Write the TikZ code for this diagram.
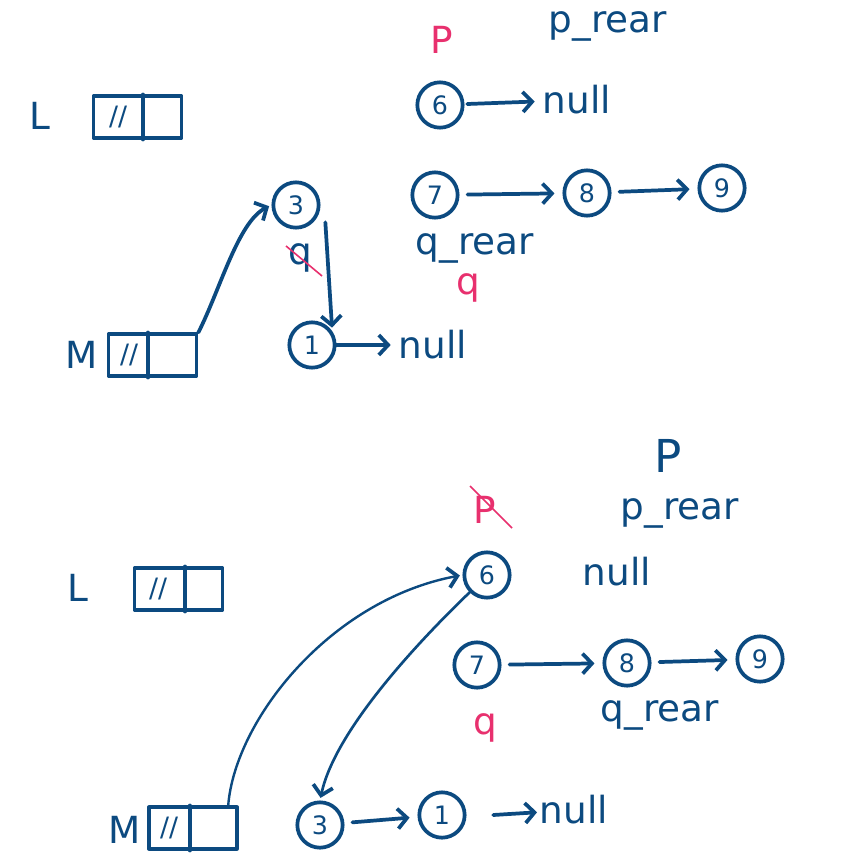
\documentclass[tikz,border=0pt]{standalone}
\usepackage{fontspec}
\setmainfont{DejaVu Sans}
\usetikzlibrary{arrows.meta}
\definecolor{inkblue}{RGB}{12,74,128}
\definecolor{inkpink}{RGB}{232,48,110}
\tikzset{
  ink/.style={draw=inkblue, line width=2.8pt, line cap=round, line join=round},
  elem/.style={circle, ink, minimum size=34pt, inner sep=0pt, text=inkblue, font=\fontsize{19}{21}\selectfont},
  headbox/.style={rectangle, ink, minimum width=66pt, minimum height=31pt, inner sep=0pt},
  lbl/.style={text=inkblue, font=\fontsize{28}{32}\selectfont, inner sep=0pt},
  pinklbl/.style={text=inkpink, font=\fontsize{28}{32}\selectfont, inner sep=0pt},
  nil/.style={text=inkblue, font=\fontsize{20}{22}\selectfont, inner sep=0pt},
  ptr/.style={ink, -{Straight Barb[length=7pt, width=15pt, line width=2.8pt]}, shorten <=6pt, shorten >=6pt},
  strike/.style={draw=inkpink, line width=1.2pt}
}
\begin{document}
\begin{tikzpicture}[x=0.75pt, y=-0.75pt]
    \useasboundingbox[fill=white] (0,0) rectangle (856,863);
    % upper half
    \node[lbl] (L1) at (40,116) {L};
    \node[headbox] (Lbox1) at (137.5,117) {};
    \draw[ink] ([xshift=4pt]Lbox1.north) -- ([xshift=4pt]Lbox1.south);
    \node[nil] (Lnil1) at (118,117) {//};
    \node[lbl] (M1) at (82,355) {M};
    \node[headbox] (Mbox1) at (152.5,355) {};
    \draw[ink] ([xshift=-3.5pt]Mbox1.north) -- ([xshift=-3.5pt]Mbox1.south);
    \node[nil] (Mnil1) at (129,355) {//};
    \node[elem] (a6) at (440,105) {6};
    \node[pinklbl] (pA) at (442,40) {P};
    \node[lbl] (prA) at (608,26) {p\_rear};
    \node[lbl] (nullA) at (577,100) {null};
    \node[elem] (a7) at (435,195) {7};
    \node[elem] (a8) at (587,193) {8};
    \node[elem] (a9) at (722,188) {9};
    \node[lbl] (qrA) at (475,248) {q\_rear};
    \node[pinklbl] (qA) at (468,288) {q};
    \node[elem] (a3) at (296,205) {3};
    \node[elem] (a1) at (312,345) {1};
    \node[lbl] (qoldA) at (300,258) {q};
    \draw[strike] (286,246) -- (322,276);
    \node[lbl] (nullB) at (433,345) {null};
    \draw[ptr, shorten <=2pt] (a6) -- (nullA);
    \draw[ptr] (a7) -- (a8);
    \draw[ptr] (a8) -- (a9);
    \draw[ptr, shorten <=0pt] (a1) -- (nullB);
    \draw[ptr, shorten <=0pt, shorten >=0pt] ([xshift=9pt]a3.south east) -- ([xshift=2pt]a1.north east);
    \draw[ptr, shorten <=0pt, shorten >=2pt] (Mbox1.north east) .. controls (220,290) and (238,222) .. (a3.west);
    % lower half
    \node[lbl] (L2) at (78,588) {L};
    \node[headbox] (Lbox2) at (178.5,589) {};
    \draw[ink] ([xshift=5pt]Lbox2.north) -- ([xshift=5pt]Lbox2.south);
    \node[nil] (Lnil2) at (158,589) {//};
    \node[lbl] (M2) at (125,830) {M};
    \node[headbox] (Mbox2) at (193,828) {};
    \draw[ink] ([xshift=-2.5pt]Mbox2.north) -- ([xshift=-2.5pt]Mbox2.south);
    \node[nil] (Mnil2) at (169,828) {//};
    \node[elem] (b6) at (487,575) {6};
    \node[pinklbl] (pold) at (485,510) {P};
    \draw[strike] (470,486) -- (512,528);
    \node[lbl, font=\fontsize{34}{38}\selectfont] (pB) at (668,456) {P};
    \node[lbl] (prB) at (680,513) {p\_rear};
    \node[lbl] (nullC) at (617,572) {null};
    \node[elem] (b7) at (477,665) {7};
    \node[elem] (b8) at (627,663) {8};
    \node[elem] (b9) at (760,659) {9};
    \node[pinklbl] (qB) at (485,728) {q};
    \node[lbl] (qrB) at (660,715) {q\_rear};
    \node[elem] (b3) at (320,825) {3};
    \node[elem] (b1) at (442,815) {1};
    \node[lbl] (nullD) at (574,810) {null};
    \draw[ptr] (b7) -- (b8);
    \draw[ptr] (b8) -- (b9);
    \draw[ptr] (b3) -- (b1);
    \draw[ptr, shorten <=0pt, shorten >=2pt] ([xshift=20pt]b1.east) -- (nullD);
    \draw[ptr, line width=1.8pt, shorten <=0pt, shorten >=2pt] ([xshift=-8pt]Mbox2.north east) .. controls (235,720) and (330,600) .. (b6.west);
    \draw[ptr, line width=2pt, shorten <=0pt, shorten >=2pt] (b6.south west) .. controls (420,640) and (335,730) .. (b3.north);
\end{tikzpicture}
\end{document}
